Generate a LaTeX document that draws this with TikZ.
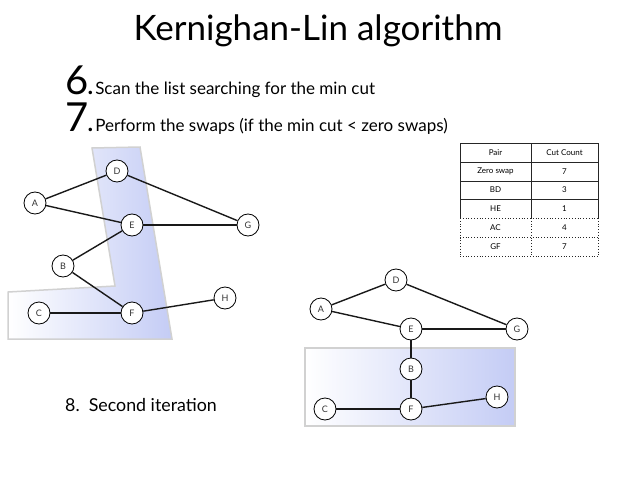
\documentclass[tikz,border=0pt]{standalone}
\usepackage{fontspec}
\setmainfont{Lato}
\begin{document}
\begin{tikzpicture}[x=1pt,y=-1pt,
  vtx/.style={circle,draw=black,line width=0.8pt,fill=white,minimum size=22pt,inner sep=0pt,font=\fontsize{9}{9}\selectfont,text=black!80},
  edge/.style={line width=1.4pt,black!90},
  region/.style={draw=black!18,line width=1.5pt,left color=white,right color={rgb,255:red,196;green,204;blue,245}},
  cell/.style={font=\fontsize{8}{9}\selectfont,inner sep=0pt},
  bignum/.style={anchor=base west,inner sep=0pt,font=\fontsize{40}{40}\selectfont},
  itemtext/.style={anchor=base west,inner sep=0pt,font=\fontsize{17}{18}\selectfont},
  tabsolid/.style={line width=0.7pt,black!85},
  tabdot/.style={line width=0.8pt,black!85,dotted}]
\useasboundingbox (0,0) rectangle (638,479);
% title and text
\node[anchor=base,inner sep=0pt,font=\fontsize{35}{36}\selectfont] (title) at (318,40) {Kernighan-Lin algorithm};
\node[bignum] (n6) at (65,94) {6};
\node[itemtext] (t6) at (87,94) {{\fontsize{28}{28}\selectfont.}\hspace{1.5pt}Scan the list searching for the min cut};
\node[bignum] (n7) at (65,131) {7};
\node[itemtext] (t7) at (87,131) {{\fontsize{28}{28}\selectfont.}\hspace{1.5pt}Perform the swaps (if the min cut < zero swaps)};
\node[anchor=base west,inner sep=0pt,font=\fontsize{17.8}{19}\selectfont] (t8) at (65,411) {8.\ \ Second iteration};
% left shaded region
\path[region] (92,148) -- (140,147) -- (172,339) -- (8,339) -- (8,292) -- (115,286) -- cycle;
% right shaded region
\path[region] (305,348) rectangle (515,426);
% left graph
\node[vtx] (D1) at (117,171) {D};
\node[vtx] (A1) at (35,203) {A};
\node[vtx] (E1) at (132,225) {E};
\node[vtx] (G1) at (248,225) {G};
\node[vtx] (B1) at (63,266) {B};
\node[vtx] (C1) at (39,313) {C};
\node[vtx] (F1) at (132,313) {F};
\node[vtx] (H1) at (225,298) {H};
\draw[edge] (A1) -- (D1);
\draw[edge] (A1) -- (E1);
\draw[edge] (D1) -- (G1);
\draw[edge] (E1) -- (G1);
\draw[edge] (B1) -- (E1);
\draw[edge] (B1) -- (F1);
\draw[edge] (C1) -- (F1);
\draw[edge] (F1) -- (H1);
% right graph
\node[vtx] (D2) at (396,280) {D};
\node[vtx] (A2) at (321,309) {A};
\node[vtx] (E2) at (411,329) {E};
\node[vtx] (G2) at (517,329) {G};
\node[vtx] (B2) at (411,369) {B};
\node[vtx] (F2) at (411,409) {F};
\node[vtx] (C2) at (325,409) {C};
\node[vtx] (H2) at (497,397) {H};
\draw[edge] (A2) -- (D2);
\draw[edge] (A2) -- (E2);
\draw[edge] (D2) -- (G2);
\draw[edge] (E2) -- (G2);
\draw[edge] (E2) -- (B2);
\draw[edge] (B2) -- (F2);
\draw[edge] (C2) -- (F2);
\draw[edge] (F2) -- (H2);
% table
\draw[tabsolid] (460,143) -- (598,143);
\draw[tabsolid] (460,162) -- (598,162);
\draw[tabsolid] (460,181) -- (598,181);
\draw[tabsolid] (460,199) -- (598,199);
\draw[tabsolid] (460,143) -- (460,218);
\draw[tabsolid] (531,143) -- (531,218);
\draw[tabsolid] (598,143) -- (598,218);
\draw[tabdot] (460,218) -- (598,218);
\draw[tabdot] (460,237) -- (598,237);
\draw[tabdot] (460,256) -- (598,256);
\draw[tabdot] (460,218) -- (460,256);
\draw[tabdot] (531,218) -- (531,256);
\draw[tabdot] (598,218) -- (598,256);
\node[cell] (p0) at (495.5,152.5) {Pair};
\node[cell] (c0) at (564.5,152.5) {Cut Count};
\node[cell] (p1) at (495.5,171.5) {Zero swap};
\node[cell] (c1) at (564.5,171.5) {7};
\node[cell] (p2) at (495.5,190) {BD};
\node[cell] (c2) at (564.5,190) {3};
\node[cell] (p3) at (495.5,208.5) {HE};
\node[cell] (c3) at (564.5,208.5) {1};
\node[cell] (p4) at (495.5,227.5) {AC};
\node[cell] (c4) at (564.5,227.5) {4};
\node[cell] (p5) at (495.5,246.5) {GF};
\node[cell] (c5) at (564.5,246.5) {7};
\end{tikzpicture}
\end{document}
